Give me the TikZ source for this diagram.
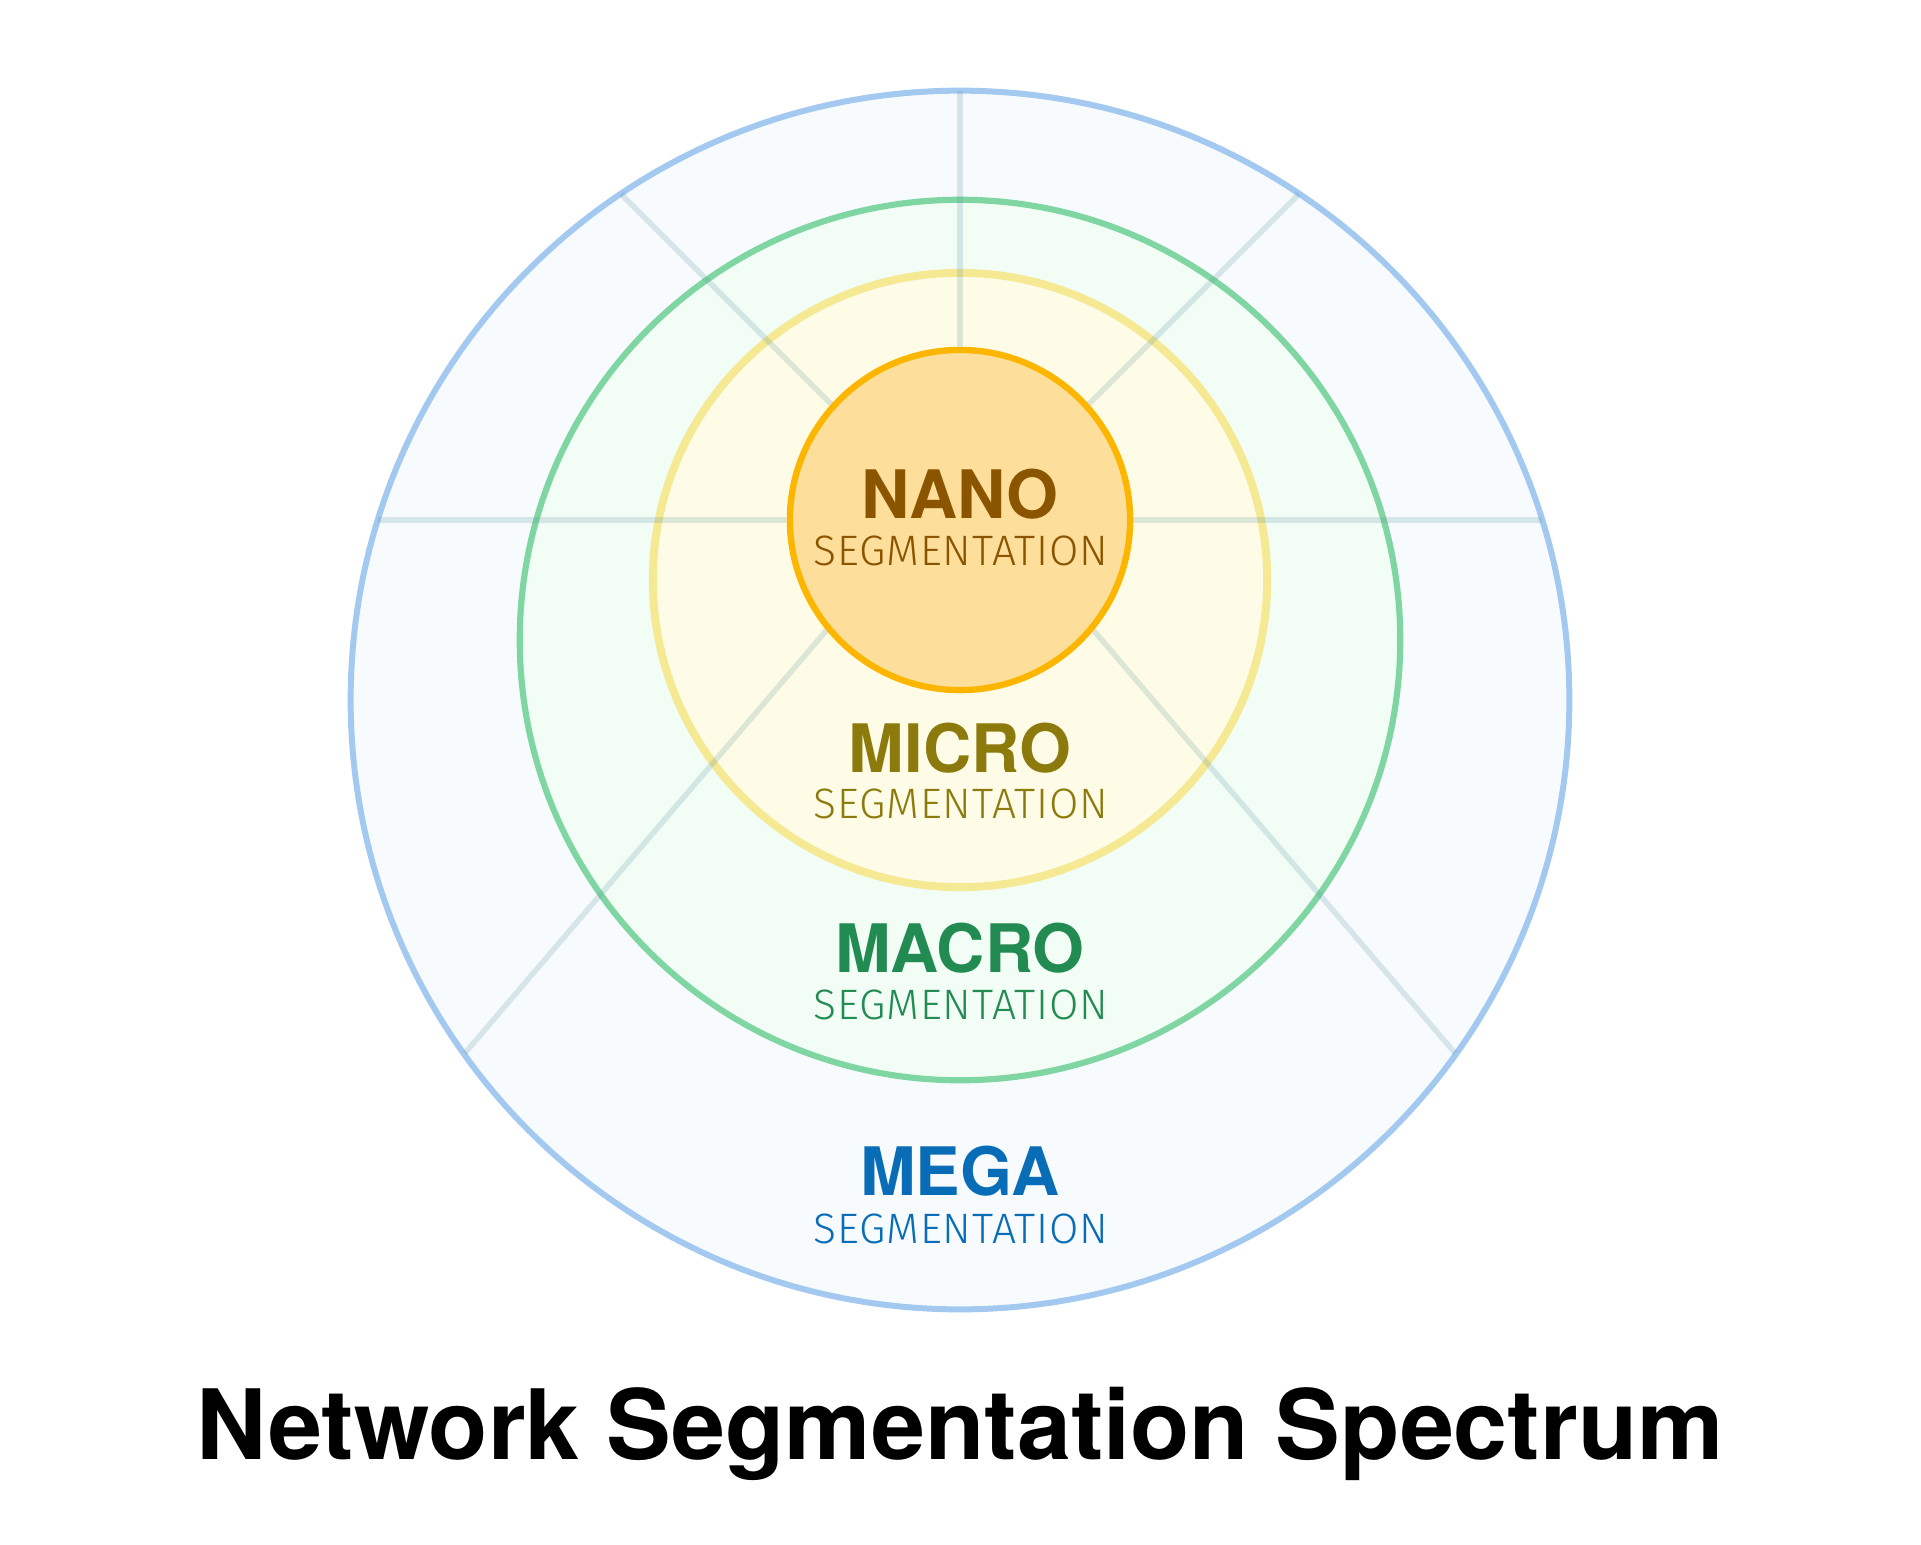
\documentclass[tikz,border=0pt]{standalone}
\usepackage{fontspec}
\setmainfont{TeX Gyre Heros}
\newfontfamily\segfont{Fira Sans Light}[LetterSpace=2]
\definecolor{megastroke}{HTML}{A3C9F1}
\definecolor{megafill}{HTML}{F7FBFE}
\definecolor{macrostroke}{HTML}{80D6A2}
\definecolor{macrofill}{HTML}{F2FDF6}
\definecolor{microstroke}{HTML}{F5E994}
\definecolor{microfill}{HTML}{FEFCE6}
\definecolor{nanostroke}{HTML}{FDB600}
\definecolor{nanofill}{HTML}{FDDE9B}
\definecolor{spokecol}{RGB}{84,142,155}
\definecolor{nanotext}{HTML}{8B5500}
\definecolor{microtext}{HTML}{8C7B0C}
\definecolor{macrotext}{HTML}{228B52}
\definecolor{megatext}{HTML}{086CB6}
\begin{document}
\begin{tikzpicture}[x=0.01cm,y=-0.01cm,
  ring/.style={circle, inner sep=0pt, outer sep=0pt},
  spoke/.style={draw=spokecol, draw opacity=0.2, line width=1.55pt},
  biglabel/.style={anchor=base, inner sep=0pt, font=\fontsize{19pt}{19pt}\selectfont\bfseries},
  smalllabel/.style={anchor=base, inner sep=0pt, font=\fontsize{12.1pt}{12.1pt}\segfont}]
\fill[white] (0,0) rectangle (1921,1544);
\useasboundingbox (0,0) rectangle (1921,1544);

% rings
\node[ring, draw=megastroke, fill=megafill, line width=1.7pt, minimum size=12.18cm] (mega) at (960,700) {};
\node[ring, draw=macrostroke, fill=macrofill, line width=1.75pt, minimum size=8.80cm] (macro) at (960,640) {};
\node[ring, draw=microstroke, fill=microfill, line width=2.25pt, minimum size=6.14cm] (micro) at (960,580) {};

% spoke end points
\coordinate (vT) at (960,91);
\coordinate (vB) at (960,370);
\coordinate (hL) at (378.2,520);
\coordinate (hLi) at (810,520);
\coordinate (hR) at (1541.8,520);
\coordinate (hRi) at (1110,520);
\coordinate (ulO) at (621,194);
\coordinate (ulI) at (850,423);
\coordinate (urO) at (1299,194);
\coordinate (urI) at (1070,423);
\coordinate (llO) at (465,1053);
\coordinate (llI) at (846.2,607.2);
\coordinate (lrO) at (1455,1053);
\coordinate (lrI) at (1073.8,607.2);

\draw[spoke] (vT) -- (vB);
\draw[spoke] (hL) -- (hLi);
\draw[spoke] (hR) -- (hRi);
\draw[spoke] (ulO) -- (ulI);
\draw[spoke] (urO) -- (urI);
\draw[spoke] (llO) -- (llI);
\draw[spoke] (lrO) -- (lrI);

\node[ring, draw=nanostroke, fill=nanofill, line width=1.8pt, minimum size=3.40cm] (nano) at (960,520) {};

% labels
\node[biglabel, text=nanotext] (nanoname) at (960,518) {NANO};
\node[smalllabel, text=nanotext] (nanoseg) at (961,565) {SEGMENTATION};
\node[biglabel, text=microtext] (microname) at (960,772) {MICRO};
\node[smalllabel, text=microtext] (microseg) at (961,818) {SEGMENTATION};
\node[biglabel, text=macrotext] (macroname) at (960,972) {MACRO};
\node[smalllabel, text=macrotext] (macroseg) at (961,1019) {SEGMENTATION};
\node[biglabel, text=megatext] (meganame) at (960,1195) {MEGA};
\node[smalllabel, text=megatext] (megaseg) at (961,1243) {SEGMENTATION};

\node[anchor=base, inner sep=0pt, font=\fontsize{27.6pt}{27.6pt}\selectfont\bfseries] (title) at (960,1459) {Network Segmentation Spectrum};
\end{tikzpicture}
\end{document}
